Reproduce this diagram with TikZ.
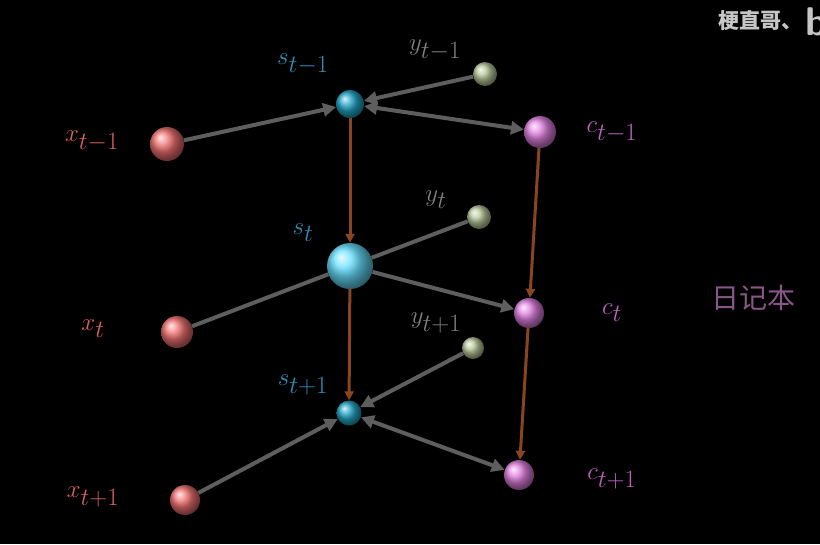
\documentclass[tikz,border=0pt]{standalone}
\usepackage{fontspec}
\newfontfamily\cjk{Noto Sans CJK SC}
\usetikzlibrary{arrows.meta}
\definecolor{xr}{HTML}{D9605A}
\definecolor{xb}{HTML}{F07070}
\definecolor{sb}{HTML}{2A8FB8}
\definecolor{yg}{HTML}{B8C89A}
\definecolor{cp}{HTML}{C060C0}
\definecolor{cbc}{HTML}{E080E0}
\definecolor{ln}{HTML}{5E5E5E}
\definecolor{br}{HTML}{8A4420}
\tikzset{
 ball/.style={circle,inner sep=0pt,minimum size=#1},
 xb/.style={ball=#1,ball color=xb},
 sbn/.style={ball=#1,ball color=sb!80!cyan},
 yb/.style={ball=#1,ball color=yg},
 cb/.style={ball=#1,ball color=cbc},
 gl/.style={draw=ln,line width=4pt,-{Triangle[length=13pt,width=13pt]}},
 gd/.style={gl,{Triangle[length=13pt,width=13pt]}-{Triangle[length=13pt,width=13pt]}},
 bl/.style={draw=br,line width=3pt,-{Triangle[length=9pt,width=9pt]}},
 lab/.style={font=\fontsize{33}{33}\selectfont}
}
\begin{document}
\begin{tikzpicture}[x=1pt,y=-1pt]
\useasboundingbox (0,0) rectangle (820,544);
\clip (0,0) rectangle (820,544);
\fill[black] (0,0) rectangle (820,544);
\node[xb=34pt] (x1) at (167,144) {};
\node[sbn=28pt] (s1) at (350,104) {};
\node[yb=24pt] (y1) at (485,74) {};
\node[cb=32pt] (c1) at (540,132) {};
\node[yb=24pt] (y2) at (479,217) {};
\node[ball=46pt,ball color=cyan!80!blue!60!white] (s2) at (350,266) {};
\node[cb=30pt] (c2) at (529,313) {};
\node[xb=32pt] (x2) at (177,332) {};
\node[yb=22pt] (y3) at (473,348) {};
\node[sbn=25pt] (s3) at (349,413) {};
\node[cb=30pt] (c3) at (519,475) {};
\node[xb=30pt] (x3) at (185,500) {};

\draw[gl] (x1) -- (s1);
\draw[gl] (y1) -- (s1);
\draw[gd] (s1) -- (c1);
\draw[draw=ln,line width=4pt] (s2) -- (y2);
\draw[draw=ln,line width=4pt] (x2) -- (s2);
\draw[gl] (s2) -- (c2);
\draw[gl] (x3) -- (s3);
\draw[gl] (y3) -- (s3);
\draw[gd] (s3) -- (c3);
\draw[bl] (s1) -- (s2);
\draw[bl] (s2) -- (s3);
\draw[bl] (c1) -- (c2);
\draw[bl] (c2) -- (c3);

\node[lab,text=xr] (lx1) at (92,141) {$x_{t-1}$};
\node[lab,text=xr] (lx2) at (93,329) {$x_t$};
\node[lab,text=xr] (lx3) at (93,497) {$x_{t+1}$};
\node[lab,text=sb] (ls1) at (303,64) {$s_{t-1}$};
\node[lab,text=sb] (ls2) at (303,233) {$s_t$};
\node[lab,text=sb] (ls3) at (303,385) {$s_{t+1}$};
\node[lab,text=gray] (ly1) at (435,50) {$y_{t-1}$};
\node[lab,text=gray] (ly2) at (436,200) {$y_t$};
\node[lab,text=gray] (ly3) at (436,323) {$y_{t+1}$};
\node[lab,text=cp] (lc1) at (612,132) {$c_{t-1}$};
\node[lab,text=cp] (lc2) at (612,313) {$c_t$};
\node[lab,text=cp] (lc3) at (612,479) {$c_{t+1}$};
\node[text=cp!65!gray!80!black,font=\cjk\fontsize{28}{28}\selectfont] (nb) at (753,298) {日记本};
\node[text=gray!45,font=\cjk\bfseries\fontsize{21}{21}\selectfont,anchor=east] (wm) at (806,21) {梗直哥、};
\node[text=gray!45,font=\sffamily\bfseries\fontsize{40}{40}\selectfont,anchor=west] (wb) at (802,22) {b};
\end{tikzpicture}
\end{document}
